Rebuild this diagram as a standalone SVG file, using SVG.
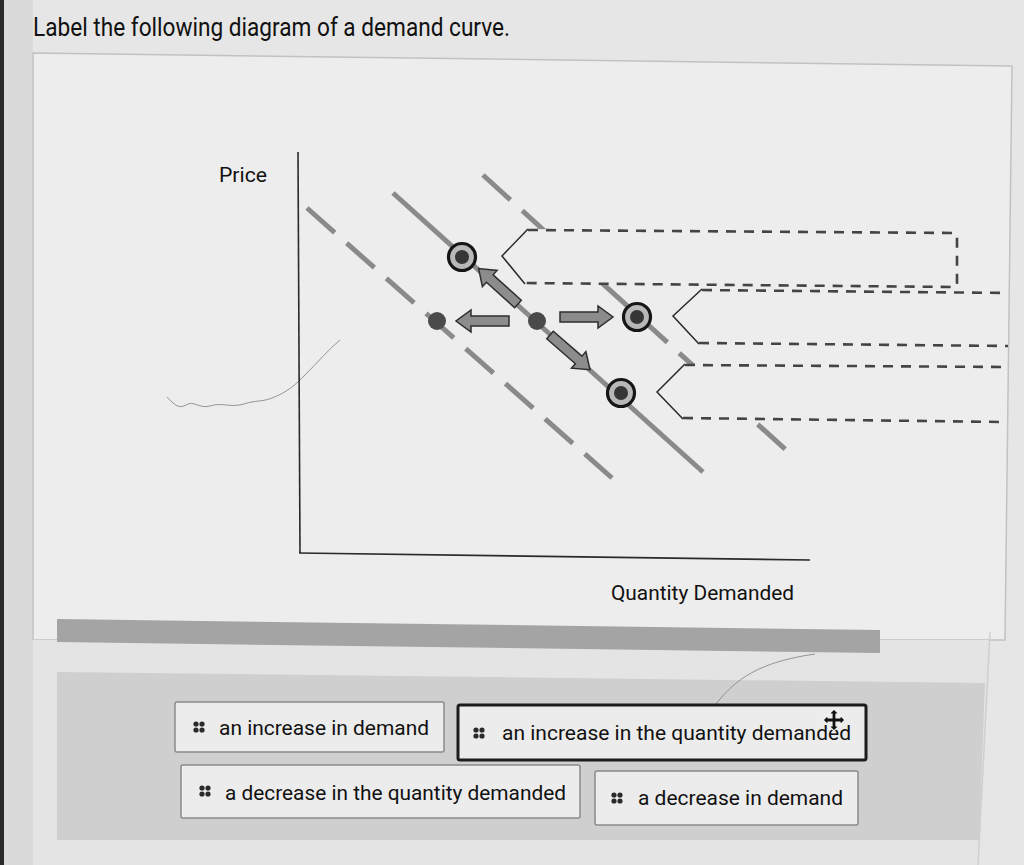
<svg xmlns="http://www.w3.org/2000/svg" width="1024" height="865" viewBox="0 0 1024 865">
<defs>
<style>
.txt{font-family:Roboto,"Liberation Sans",Arial,sans-serif;fill:#111}
.curve{stroke:#8a8a8a;stroke-width:5;fill:none}
.dcurve{stroke:#8a8a8a;stroke-width:5;fill:none;stroke-dasharray:37 16}
.arrow{fill:#8c8c8c;stroke:#2e2e2e;stroke-width:1.5;stroke-linejoin:miter}
.zonefill{fill:#ededed;stroke:none}
.bracket{fill:none;stroke:#2a2a2a;stroke-width:1.5}
.zdash{fill:none;stroke:#444;stroke-width:2.6;stroke-dasharray:10 8}
.card{fill:#ececec;stroke:#8a8a8a;stroke-width:1.5}
.cardsel{fill:#ececec;stroke:#1c1c1c;stroke-width:3}
.grip{fill:#2a2a2a}
.ring{fill:#b8b8b8;stroke:#161616;stroke-width:3.2}
.core{fill:#363636}
.dot{fill:#4a4a4a}
.scratch{fill:none;stroke:#8a8a8a;stroke-width:0.9}
</style>
<path id="arr" d="M0,-5 H38 V-11 L53,0 L38,11 V5 H0 Z"/>
</defs>

<!-- background / page -->
<rect x="0" y="0" width="1024" height="865" fill="#e6e6e6"/>
<rect x="4" y="0" width="29" height="865" fill="#dadada"/>
<rect x="0" y="0" width="4" height="865" fill="#2b2b2b"/>
<polygon points="33,53 1012,66 1005,640 33,640" fill="#ededed" stroke="#c2c2c2" stroke-width="1.5"/>
<polygon points="33,640 990,640 978,865 33,865" fill="#e4e4e4"/>
<polygon points="57,672 985,683 979,840 57,840" fill="#cfcfcf"/>
<polygon points="57,619 880,630 880,653 57,642" fill="#a4a4a4"/>
<line x1="990" y1="632" x2="978" y2="865" stroke="#cfcfcf" stroke-width="1.5"/>

<text class="txt" x="33" y="36" font-size="25" textLength="477" lengthAdjust="spacingAndGlyphs">Label the following diagram of a demand curve.</text>

<!-- photo scratches -->
<path class="scratch" d="M167,397 C172,402 178,410 186,405 C194,400 199,409 210,406 C222,402 230,408 244,404 C256,400 262,402 272,398 C288,392 296,384 305,375 C318,362 328,350 340,340"/>
<path class="scratch" d="M713,708 C735,678 760,662 815,654"/>

<!-- axes -->
<g id="axes">
<line x1="298" y1="152" x2="300" y2="553" stroke="#2a2a2a" stroke-width="1.6"/>
<line x1="299" y1="553" x2="810" y2="560" stroke="#2a2a2a" stroke-width="1.6"/>
<text class="txt" x="219" y="182" font-size="20" textLength="48" lengthAdjust="spacingAndGlyphs">Price</text>
<text class="txt" x="611" y="600" font-size="20" textLength="183" lengthAdjust="spacingAndGlyphs">Quantity Demanded</text>
</g>

<!-- demand curves -->
<g id="curves">
<line id="demand-left" class="dcurve" x1="307" y1="208" x2="612" y2="478"/>
<line id="demand-mid" class="curve" x1="393" y1="193" x2="703" y2="472"/>
<line id="demand-right" class="dcurve" x1="483" y1="175" x2="786" y2="450"/>
</g>

<!-- drop zones -->
<g id="zone1">
<polygon class="zonefill" points="528,229 957,233 957,287 525,283 502,256"/>
<polyline class="bracket" points="528,229 502,256 525,284"/>
<path class="zdash" d="M528,230 L953,233 Q957,233 957,237 V283 Q957,287 953,287 L525,283"/>
</g>
<g id="zone2">
<polygon class="zonefill" points="702,289 1008,293 1008,346 699,343 673,316"/>
<polyline class="bracket" points="702,289 673,316 699,344"/>
<polyline class="zdash" points="702,290 1008,293"/>
<polyline class="zdash" points="699,343 1008,346"/>
</g>
<g id="zone3">
<polygon class="zonefill" points="685,364 1005,367 1005,422 683,418 657,392"/>
<polyline class="bracket" points="685,364 657,392 683,419"/>
<polyline class="zdash" points="685,365 1005,367"/>
<polyline class="zdash" points="683,418 1005,422"/>
</g>

<!-- arrows -->
<g id="arrows">
<use href="#arr" class="arrow" transform="translate(509,321) rotate(180)"/>
<use href="#arr" class="arrow" transform="translate(560,317)"/>
<use href="#arr" class="arrow" transform="translate(518,304) rotate(222)"/>
<use href="#arr" class="arrow" transform="translate(550,335) rotate(41)"/>
</g>

<!-- points -->
<g id="pointA"><circle class="ring" cx="462" cy="257" r="13.5"/><circle class="core" cx="462" cy="257" r="7"/></g>
<g id="pointB"><circle class="ring" cx="637" cy="317" r="13.5"/><circle class="core" cx="637" cy="317" r="7"/></g>
<g id="pointC"><circle class="ring" cx="621" cy="393" r="13.5"/><circle class="core" cx="621" cy="393" r="7"/></g>
<g id="pointD"><circle class="dot" cx="437" cy="321" r="9"/></g>
<g id="pointE"><circle class="dot" cx="537" cy="321" r="9"/></g>

<!-- answer cards -->
<g id="card1">
<rect class="card" x="175" y="702" width="269" height="50" rx="2"/>
<g class="grip"><circle cx="196" cy="724" r="2.6"/><circle cx="202" cy="724" r="2.6"/><circle cx="196" cy="730" r="2.6"/><circle cx="202" cy="730" r="2.6"/></g>
<text class="txt" x="219" y="735" font-size="19.5" textLength="210" lengthAdjust="spacingAndGlyphs">an increase in demand</text>
</g>
<g id="card2">
<rect class="cardsel" x="458" y="705" width="408" height="55" rx="2"/>
<g class="grip"><circle cx="476" cy="730" r="2.6"/><circle cx="482" cy="730" r="2.6"/><circle cx="476" cy="736" r="2.6"/><circle cx="482" cy="736" r="2.6"/></g>
<text class="txt" x="502" y="740" font-size="19.5" textLength="349" lengthAdjust="spacingAndGlyphs">an increase in the quantity demanded</text>
</g>
<g id="card3">
<rect class="card" x="181" y="765" width="399" height="53" rx="2"/>
<g class="grip"><circle cx="202" cy="788" r="2.6"/><circle cx="208" cy="788" r="2.6"/><circle cx="202" cy="794" r="2.6"/><circle cx="208" cy="794" r="2.6"/></g>
<text class="txt" x="225" y="800" font-size="19.5" textLength="341" lengthAdjust="spacingAndGlyphs">a decrease in the quantity demanded</text>
</g>
<g id="card4">
<rect class="card" x="595" y="771" width="263" height="54" rx="2"/>
<g class="grip"><circle cx="614" cy="795" r="2.6"/><circle cx="620" cy="795" r="2.6"/><circle cx="614" cy="801" r="2.6"/><circle cx="620" cy="801" r="2.6"/></g>
<text class="txt" x="638" y="805" font-size="19.5" textLength="205" lengthAdjust="spacingAndGlyphs">a decrease in demand</text>
</g>

<!-- move cursor -->
<g id="cursor">
<path d="M834,709 L839,714 H836 V718 H840 V715 L845,720 L840,725 V722 H836 V726 H839 L834,731 L829,726 H832 V722 H828 V725 L823,720 L828,715 V718 H832 V714 H829 Z" fill="#111" stroke="#f2f2f2" stroke-width="1.2"/>
</g>
</svg>
